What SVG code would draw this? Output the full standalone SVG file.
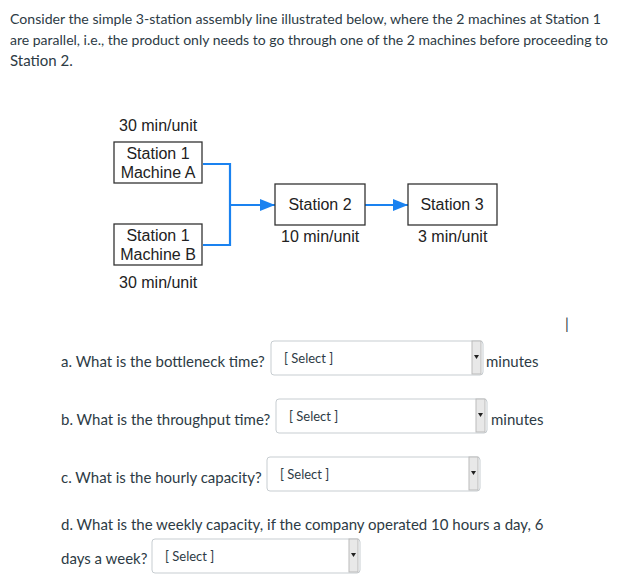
<svg xmlns="http://www.w3.org/2000/svg" width="625" height="583" viewBox="0 0 625 583">
<defs>
<style>
.t{font-family:Lato,"Open Sans",sans-serif;font-size:15px;fill:#2d3b45}
.h{font-family:Lato,"Open Sans",sans-serif;font-size:13.8px;fill:#2d3b45}
.d{font-family:"Liberation Sans",Arial,sans-serif;font-size:16px;fill:#222}
.s{font-family:Lato,sans-serif;font-size:13px;fill:#2d3b45}
.box{fill:#fff;stroke:#333;stroke-width:1.3}
.sel{fill:#fff;stroke:#c7cdd1;stroke-width:1}
.btn{fill:#e8e8e8;stroke:#bbb;stroke-width:1}
.c{fill:none;stroke:#1a82f0;stroke-width:2.2}
</style>
<marker id="ar" markerWidth="15" markerHeight="12" refX="15" refY="6" orient="auto" markerUnits="userSpaceOnUse"><path d="M0,0L15,6L0,12z" fill="#1a82f0"/></marker>
<g id="selbtn"><rect class="btn" x="0" y="0" width="9" height="33"/><path d="M2,14L7,14L4.5,18z" fill="#222"/></g>
</defs>
<rect width="625" height="583" fill="#fff"/>
<text class="h" x="10" y="24" textLength="591" lengthAdjust="spacingAndGlyphs">Consider the simple 3-station assembly line illustrated below, where the 2 machines at Station 1</text>
<text class="h" x="10" y="45" textLength="598" lengthAdjust="spacingAndGlyphs">are parallel, i.e., the product only needs to go through one of the 2 machines before proceeding to</text>
<text class="t" x="10" y="66">Station 2.</text>
<text class="d" x="119" y="131">30 min/unit</text>
<text class="d" x="119" y="288">30 min/unit</text>
<text class="d" x="281" y="242">10 min/unit</text>
<text class="d" x="418" y="242">3 min/unit</text>
<g id="connectors">
<path class="c" d="M203,164H230V245H203"/>
<path class="c" d="M230,205H275" marker-end="url(#ar)"/>
<path class="c" d="M365,205H408" marker-end="url(#ar)"/>
</g>
<g id="nodeA"><rect class="box" x="114" y="142" width="88" height="41"/><text class="d" x="158" y="159" text-anchor="middle">Station 1</text><text class="d" x="158" y="178" text-anchor="middle">Machine A</text></g>
<g id="nodeB"><rect class="box" x="114" y="224" width="88" height="41"/><text class="d" x="158" y="241" text-anchor="middle">Station 1</text><text class="d" x="158" y="260" text-anchor="middle">Machine B</text></g>
<g id="node2"><rect class="box" x="275" y="184" width="90" height="41"/><text class="d" x="320" y="210" text-anchor="middle">Station 2</text></g>
<g id="node3"><rect class="box" x="408" y="184" width="89" height="41"/><text class="d" x="452" y="210" text-anchor="middle">Station 3</text></g>
<text class="t" x="565" y="329">|</text>
<text class="t" x="61" y="367">a. What is the bottleneck time?</text>
<rect class="sel" x="271" y="341" width="212" height="34" rx="3"/><text class="s" x="284" y="363">[ Select ]</text><use href="#selbtn" x="472" y="341"/>
<text class="t" x="486" y="367">minutes</text>
<text class="t" x="61" y="425">b. What is the throughput time?</text>
<rect class="sel" x="276" y="399" width="211" height="34" rx="3"/><text class="s" x="289" y="421">[ Select ]</text><use href="#selbtn" x="476" y="399"/>
<text class="t" x="491" y="425">minutes</text>
<text class="t" x="61" y="483">c. What is the hourly capacity?</text>
<rect class="sel" x="267" y="457" width="213" height="34" rx="3"/><text class="s" x="280" y="479">[ Select ]</text><use href="#selbtn" x="469" y="457"/>
<text class="t" x="61" y="530">d. What is the weekly capacity, if the company operated 10 hours a day, 6</text>
<text class="t" x="61" y="564">days a week?</text>
<rect class="sel" x="152" y="539" width="208" height="34" rx="3"/><text class="s" x="165" y="561">[ Select ]</text><use href="#selbtn" x="349" y="539"/>
</svg>
